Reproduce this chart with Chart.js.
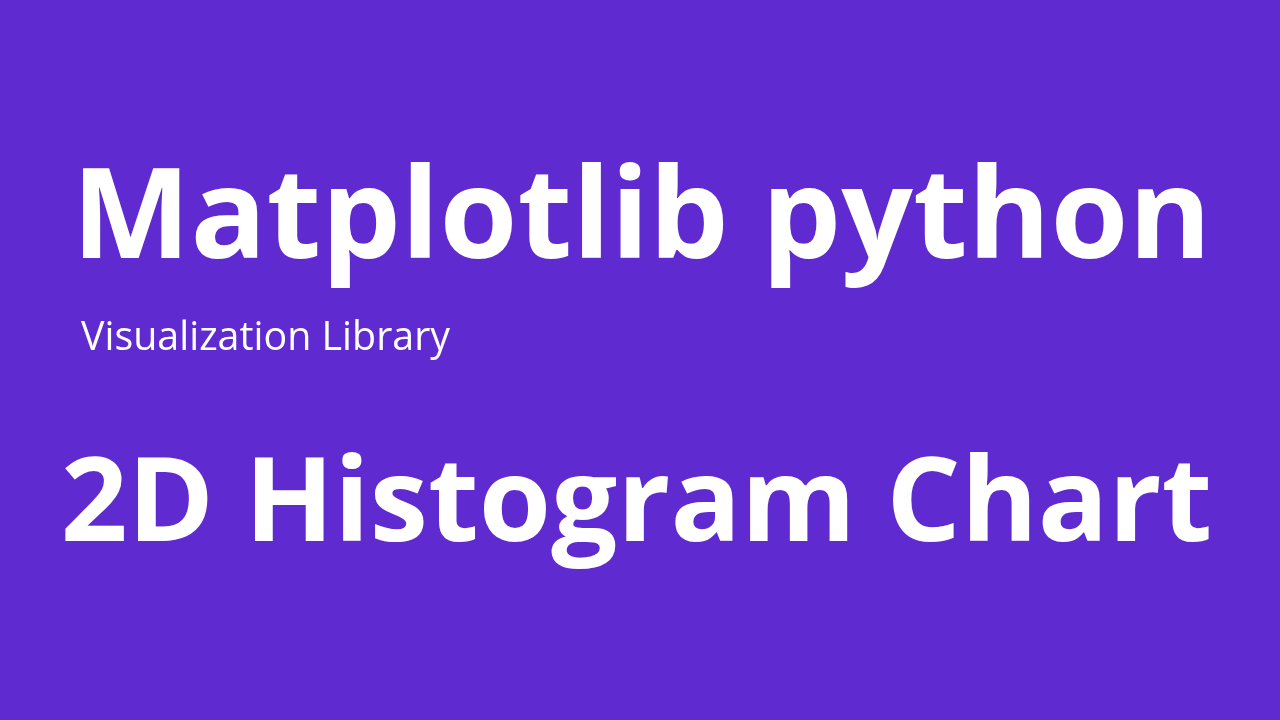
<!DOCTYPE html>
<html>
<head>
<meta charset="utf-8">
<script src="https://cdn.jsdelivr.net/npm/chart.js@4/dist/chart.umd.min.js"></script>
<style>
  html, body { margin: 0; padding: 0; width: 1280px; height: 720px; overflow: hidden; background: #5f2bd0; }
  #wrap { position: relative; width: 1280px; height: 720px; }
  #c { position: absolute; left: 0; top: 0; }
  .t { position: absolute; color: #ffffff; font-family: "Open Sans", "Noto Sans", sans-serif; line-height: normal; white-space: nowrap; margin: 0; }
  #title1 { font-weight: 700; font-size: 126px; top: 123px; left: 0; width: 1283px; text-align: center; }
  #sub { font-weight: 400; font-size: 39.4px; top: 308px; left: 81px; }
  #title2 { font-weight: 700; font-size: 117px; top: 416px; left: 0; width: 1273px; text-align: center; }
</style>
</head>
<body>
<div id="wrap">
  <canvas id="c" width="1280" height="720"></canvas>
  <div class="t" id="title1"></div>
  <div class="t" id="sub"></div>
  <div class="t" id="title2"></div>
</div>
<script>
// Text content of the title card
const mainTitle = "Matplotlib python";
const subTitle = "Visualization Library";
const chartTitle = "2D Histogram Chart";
// The card holds no plotted values
const categories = [];
const seriesValues = [];

document.getElementById('title1').textContent = mainTitle;
document.getElementById('sub').textContent = subTitle;
document.getElementById('title2').textContent = chartTitle;

const bgPlugin = {
  id: 'bg',
  beforeDraw(chart) {
    const ctx = chart.ctx;
    ctx.save();
    ctx.fillStyle = '#5f2bd0';
    ctx.fillRect(0, 0, chart.width, chart.height);
    ctx.restore();
  }
};

new Chart(document.getElementById('c'), {
  type: 'bar',
  data: { labels: categories, datasets: [{ label: chartTitle, data: seriesValues }] },
  options: {
    responsive: false,
    animation: false,
    layout: { padding: 0 },
    plugins: { legend: { display: false }, tooltip: { enabled: false }, title: { display: false } },
    scales: { x: { display: false }, y: { display: false } }
  },
  plugins: [bgPlugin]
});
</script>
</body>
</html>
